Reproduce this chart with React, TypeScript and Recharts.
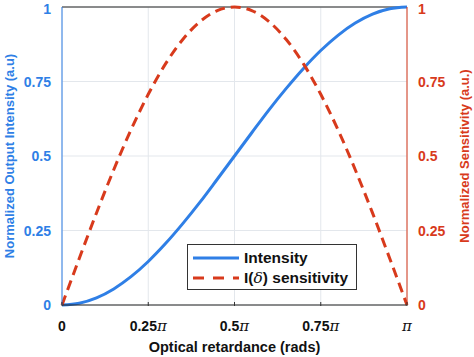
import React from 'react';
import { LineChart, Line, XAxis, YAxis, CartesianGrid, ReferenceLine } from 'recharts';

// retardance in units of pi
const retardance = [0, 0.05, 0.1, 0.15, 0.2, 0.25, 0.3, 0.35, 0.4, 0.45, 0.5, 0.55, 0.6, 0.65, 0.7, 0.75, 0.8, 0.85, 0.9, 0.95, 1];
const intensity = [0, 0.006, 0.024, 0.054, 0.095, 0.146, 0.206, 0.273, 0.345, 0.422, 0.5, 0.578, 0.655, 0.727, 0.794, 0.854, 0.905, 0.946, 0.976, 0.994, 1];
const sensitivity = [0, 0.156, 0.309, 0.454, 0.588, 0.707, 0.809, 0.891, 0.951, 0.988, 1, 0.988, 0.951, 0.891, 0.809, 0.707, 0.588, 0.454, 0.309, 0.156, 0];

const xTicks = [0, 0.25, 0.5, 0.75, 1];
const xTickLabels = ['0', '0.25', '0.5', '0.75', ''];
const yTicks = [0, 0.25, 0.5, 0.75, 1];

const BLUE = '#2F7FE6';
const RED = '#D83A1C';
const FONT = '"Liberation Sans", Arial, sans-serif';

const data = retardance.map((x, i) => ({ x, intensity: intensity[i], sensitivity: sensitivity[i] }));

const XTick = ({ x, y, payload, index }: any) => (
  <g>
    <line x1={x} y1={y - 7} x2={x} y2={y - 11} stroke="#333" strokeWidth={1} />
    <text x={x} y={y + 18} textAnchor="middle" fontFamily={FONT} fontWeight="bold" fontSize={14} fill="#111">
      {xTickLabels[index]}
      {payload.value > 0 && (
        <tspan fontFamily='"DejaVu Serif", serif' fontStyle="italic" fontWeight="normal" fontSize={15}>π</tspan>
      )}
    </text>
  </g>
);

const LeftTick = ({ x, y, payload }: any) => (
  <g>
    <text x={x - 3} y={y + 5} textAnchor="end" fontFamily={FONT} fontWeight="bold" fontSize={14} fill={BLUE}>
      {payload.value}
    </text>
  </g>
);

const RightTick = ({ x, y, payload }: any) => (
  <g>
    <text x={x + 3} y={y + 5} textAnchor="start" fontFamily={FONT} fontWeight="bold" fontSize={14} fill={RED}>
      {payload.value}
    </text>
  </g>
);

export default function App() {
  return (
    <div style={{ position: 'absolute', left: 0, top: 0, width: 474, height: 357, background: '#fff', fontFamily: FONT }}>
      <LineChart width={474} height={357} data={data} margin={{ top: 7, right: 0, bottom: 0, left: 0 }}>
        <CartesianGrid yAxisId="left" stroke="#e3e7ec" strokeWidth={1} ticks={yTicks} />
        <XAxis
          dataKey="x"
          type="number"
          domain={[0, 1]}
          ticks={xTicks}
          height={52}
          stroke="#222"
          tickLine={false}
          tick={<XTick />}
          label={{
            value: 'Optical retardance (rads)',
            position: 'insideBottom',
            offset: 5,
            style: { fontFamily: FONT, fontWeight: 'bold', fontSize: 14.5, fill: '#111' },
          }}
        />
        <YAxis
          yAxisId="left"
          domain={[0, 1]}
          ticks={yTicks}
          width={62}
          stroke={BLUE}
          tickLine={false}
          tick={<LeftTick />}
          label={{
            value: 'Normalized Output Intensity (a.u)',
            angle: -90,
            position: 'insideLeft',
            offset: 9,
            style: { textAnchor: 'middle', fontFamily: FONT, fontWeight: 'bold', fontSize: 13, fill: BLUE },
          }}
        />
        <YAxis
          yAxisId="right"
          orientation="right"
          domain={[0, 1]}
          ticks={yTicks}
          width={67}
          stroke={RED}
          tickLine={false}
          tick={<RightTick />}
          label={{
            value: 'Normalized Sensitivity (a.u.)',
            angle: -90,
            position: 'insideRight',
            offset: 10,
            style: { textAnchor: 'middle', fontFamily: FONT, fontWeight: 'bold', fontSize: 13, fill: RED },
          }}
        />
        <ReferenceLine yAxisId="left" y={1} stroke="#222" strokeWidth={1} />
        <Line
          yAxisId="left"
          type="monotone"
          dataKey="intensity"
          stroke={BLUE}
          strokeWidth={3}
          dot={false}
          isAnimationActive={false}
        />
        <Line
          yAxisId="right"
          type="monotone"
          dataKey="sensitivity"
          stroke={RED}
          strokeWidth={3}
          strokeDasharray="10 6"
          dot={false}
          isAnimationActive={false}
        />
      </LineChart>

      {/* legend box */}
      <div
        style={{
          position: 'absolute',
          left: 187,
          top: 244,
          width: 170,
          height: 46,
          background: '#fff',
          border: '1px solid #333',
          boxSizing: 'border-box',
          fontWeight: 'bold',
          fontSize: 15.5,
          color: '#111',
        }}
      >
        <div style={{ display: 'flex', alignItems: 'center', height: 20, marginTop: 3 }}>
          <svg width={56} height={6}>
            <line x1={5} y1={3} x2={51} y2={3} stroke={BLUE} strokeWidth={3} />
          </svg>
          <span>Intensity</span>
        </div>
        <div style={{ display: 'flex', alignItems: 'center', height: 20 }}>
          <svg width={56} height={6}>
            <line x1={5} y1={3} x2={51} y2={3} stroke={RED} strokeWidth={3} strokeDasharray="11 9" />
          </svg>
          <span>
            I(<span style={{ fontFamily: '"DejaVu Serif", serif', fontStyle: 'italic', fontWeight: 'normal' }}>δ</span>) sensitivity
          </span>
        </div>
      </div>
    </div>
  );
}
